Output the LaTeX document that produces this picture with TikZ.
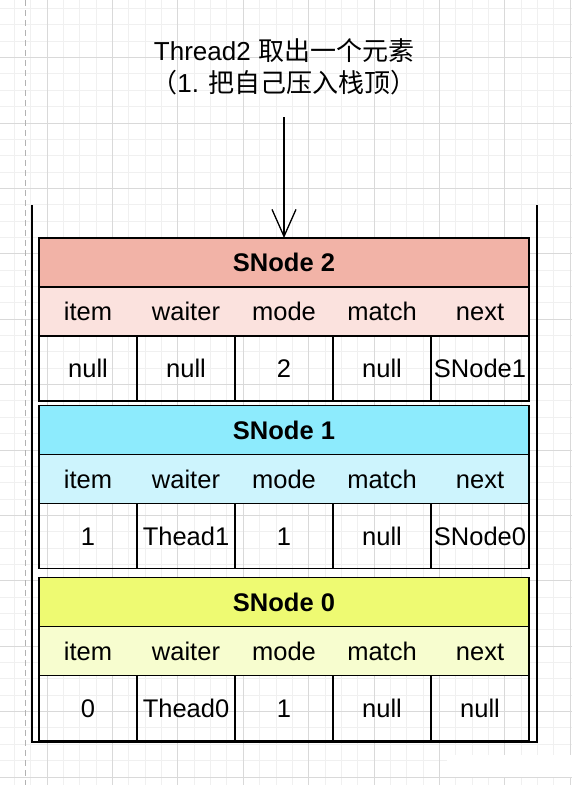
\documentclass[tikz,border=0pt]{standalone}
\usepackage{fontspec}
\setmainfont{Liberation Sans}
\newfontfamily\cjk{Noto Sans CJK SC}
\usetikzlibrary{arrows.meta}
\definecolor{hdrTwo}{HTML}{F2B3A7}
\definecolor{lblTwo}{HTML}{FBE2DE}
\definecolor{hdrOne}{HTML}{8DEBFD}
\definecolor{lblOne}{HTML}{CDF4FD}
\definecolor{hdrZero}{HTML}{EEFA72}
\definecolor{lblZero}{HTML}{F7FDCF}
\tikzset{
  minorgrid/.style={draw=gray!12, line width=0.8pt},
  majorgrid/.style={draw=gray!30, line width=0.8pt},
  pageline/.style={draw=gray!60, line width=1.3pt, dash pattern=on 6pt off 4pt},
  stackline/.style={draw=black, line width=2pt},
  boxbase/.style={draw=black, line width=1.5pt, inner sep=0pt, outer sep=0pt,
     font=\fontsize{25.5}{30}\selectfont, text height=18.6pt, text depth=0pt},
  hdrbox/.style={boxbase, minimum width=490pt, minimum height=49pt, font=\fontsize{25.5}{30}\selectfont\bfseries},
  lblbox/.style={boxbase, minimum width=490pt, minimum height=49pt},
  lbltext/.style={draw=none, inner sep=0pt, font=\fontsize{25.5}{30}\selectfont, text height=18.6pt, text depth=0pt},
  cellbox/.style={boxbase, minimum width=98pt, minimum height=65pt},
  titletext/.style={inner sep=0pt, font=\fontsize{26}{30}\selectfont},
  arr/.style={draw=black, line width=1.3pt, -{Straight Barb[length=27pt,width=24pt]}},
}
\newcommand\stacknode[6]{%
  \node[hdrbox, fill=#3] (#1h) at (284,#2+24.5) {#5};
  \node[lblbox, fill=#4] (#1l) at (284,#2+73.5) {};
  \foreach \n [count=\i] in {item,waiter,mode,match,next}
    \node[lbltext] (#1l\i) at (39+98*\i-49,#2+73.5) {\n};
  \foreach \v [count=\i] in {#6}
    \node[cellbox] (#1v\i) at (39+98*\i-49,#2+130.5) {\v};
}
\begin{document}
\begin{tikzpicture}[x=1pt,y=-1pt]
\useasboundingbox (0,0) rectangle (572,785);
\fill[white] (0,0) rectangle (572,785);
% grid
\foreach \k in {0,...,34} \draw[minorgrid] (14.3+16.35*\k,0) -- (14.3+16.35*\k,785);
\foreach \k in {0,...,47} \draw[minorgrid] (0,8.45+16.35*\k) -- (572,8.45+16.35*\k);
\foreach \k in {0,...,8} \draw[majorgrid] (47+65.4*\k,0) -- (47+65.4*\k,785);
\foreach \k in {0,...,11} \draw[majorgrid] (0,57.5+65.4*\k) -- (572,57.5+65.4*\k);
% page border
\draw[pageline] (25.7,0) -- (25.7,785);
% watermark patch
\fill[white] (447,755) rectangle (572,777);
% title
\node[titletext, anchor=base] (t1) at (284,60) {Thread2 {\cjk 取出一个元素}};
\node[titletext, anchor=base] (t2) at (284,92) {{\cjk （}1. {\cjk 把自己压入栈顶）}};
% stack outline
\draw[stackline] (31.7,205) -- (31.7,742) -- (536.7,742) -- (536.7,205);
% nodes
\stacknode{a}{238}{hdrTwo}{lblTwo}{SNode 2}{null,null,2,null,SNode1}
\stacknode{b}{405.5}{hdrOne}{lblOne}{SNode 1}{1,Thead1,1,null,SNode0}
\stacknode{c}{577.5}{hdrZero}{lblZero}{SNode 0}{0,Thead0,1,null,null}
% arrow
\coordinate (src) at (284,117);
\draw[arr] (src) -- (ah.north);
\end{tikzpicture}
\end{document}
